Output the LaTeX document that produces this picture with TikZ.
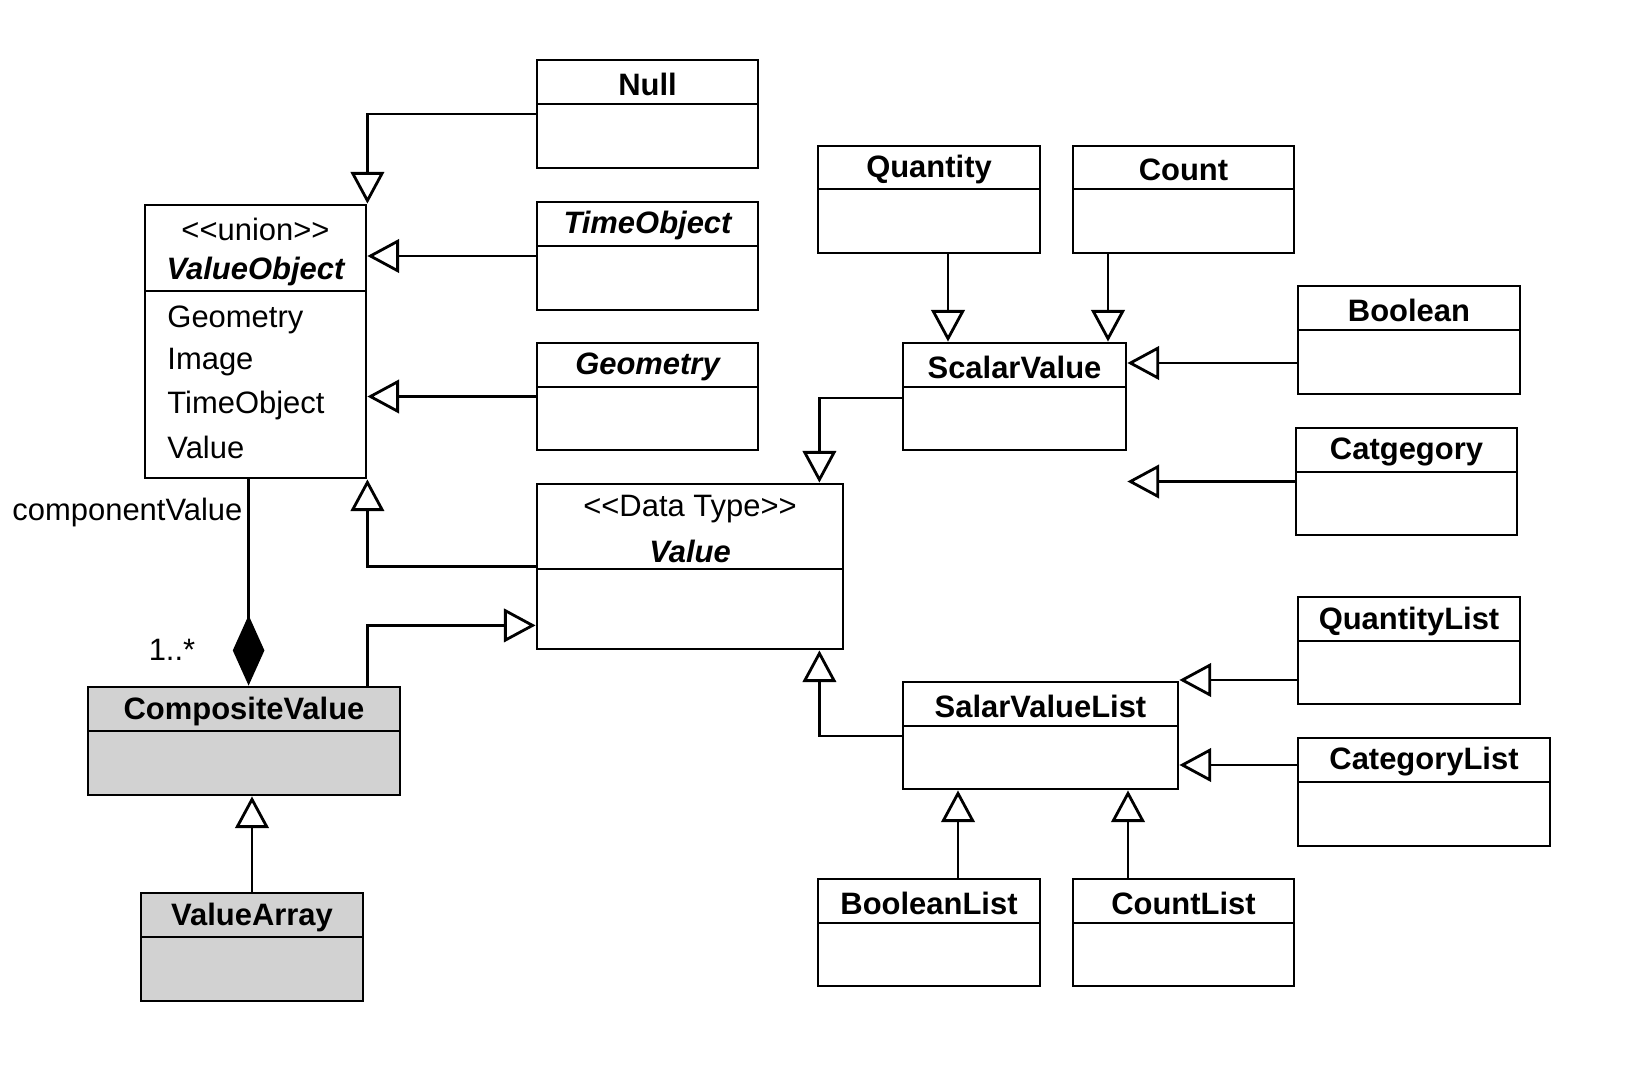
\documentclass[tikz,border=0pt]{standalone}
\usepackage{fontspec}
\setmainfont{Liberation Sans}
\usetikzlibrary{arrows.meta,calc}
\newcommand\ubox[8]{%
  \node[draw,line width=0.8pt,fill=#7,inner sep=0pt,minimum width={(#4-#2)*0.01cm},minimum height={(#5-#3)*0.01cm}] (#1) at ({(#2+#4)/2},{(#3+#5)/2}) {};
  \draw[line width=0.8pt] (#2,#6) -- (#4,#6);
  \node[font=\fontsize{8.8}{10}\selectfont\bfseries] at ({(#2+#4)/2},{(#3+#6)/2+2}) {#8};}
\begin{document}
\begin{tikzpicture}[x=0.01cm,y=-0.01cm,
  gen/.style={line width=0.8pt,-{Triangle[open,width=9.5pt,length=9pt,line width=0.8pt]}},
  txt/.style={font=\fontsize{8.8}{10}\selectfont}]
\useasboundingbox (0,0) rectangle (1633,1082);
\ubox{null}{537}{60}{758}{168}{104}{white}{Null}
\ubox{to}{537}{202}{758}{310}{246}{white}{\itshape TimeObject}
\ubox{geo}{537}{343}{758}{450}{387}{white}{\itshape Geometry}
% ValueObject
\node[draw,line width=0.8pt,inner sep=0pt,minimum width=221*0.01cm,minimum height=273*0.01cm] (vo) at (255.5,341.5) {};
\draw[line width=0.8pt] (145,291) -- (366,291);
\node[txt] at (255.5,229) {{<}{<}union{>}{>}};
\node[txt,font=\fontsize{8.8}{10}\selectfont\bfseries\itshape] at (255.5,271) {ValueObject};
\node[txt,anchor=west] at (155,320) {Geometry};
\node[txt,anchor=west] at (155,362) {Image};
\node[txt,anchor=west] at (155,405) {TimeObject};
\node[txt,anchor=west] at (155,447) {Value};
% Value
\node[draw,line width=0.8pt,inner sep=0pt,minimum width=306*0.01cm,minimum height=165*0.01cm] (val) at (690,566.5) {};
\draw[line width=0.8pt] (537,569) -- (843,569);
\node[txt] at (690,509) {{<}{<}Data Type{>}{>}};
\node[txt,font=\fontsize{8.8}{10}\selectfont\bfseries\itshape] at (690,551) {Value};
\ubox{cv}{88}{687}{400}{795}{731}{gray!35}{CompositeValue}
\ubox{va}{141}{893}{363}{1001}{937}{gray!35}{ValueArray}
\ubox{qty}{818}{146}{1040}{253}{189}{white}{Quantity}
\ubox{cnt}{1073}{146}{1294}{253}{189}{white}{Count}
\ubox{sv}{903}{343}{1126}{450}{387}{white}{ScalarValue}
\ubox{bool}{1298}{286}{1520}{394}{330}{white}{Boolean}
\ubox{cat}{1296}{428}{1517}{535}{472}{white}{Catgegory}
\ubox{ql}{1298}{597}{1520}{704}{641}{white}{QuantityList}
\ubox{svl}{903}{682}{1178}{789}{726}{white}{SalarValueList}
\ubox{cl}{1298}{738}{1550}{846}{782}{white}{CategoryList}
\ubox{bl}{818}{879}{1040}{986}{923}{white}{BooleanList}
\ubox{cntl}{1073}{879}{1294}{986}{923}{white}{CountList}
% connectors
\draw[gen] (null.west) -| (vo.north east);
\draw[gen] (to.west) -- (to.west -| vo.east);
\draw[gen] (geo.west) -- (geo.west -| vo.east);
\draw[gen] (val.west) -| (vo.south east);
\coordinate (cvt) at ($(cv.north east)+(-34,0)$);
\coordinate (vw) at ($(val.south west)+(0,-25)$);
\draw[gen] (cvt) |- (vw);
\draw[line width=0.8pt,{Diamond[width=9pt,length=20pt]}-] ($(cv.north west)+(162,0)$) -- ($(vo.south west)+(105,0)$);
\node[txt,anchor=west] at (0,512) {componentValue};
\node[txt] at (172,650) {1..*};
\draw[gen] (va.north) -- (va.north |- cv.south);
\coordinate (q1) at ($(qty.south)+(19,0)$);
\draw[gen] (q1) -- (q1 |- sv.north);
\coordinate (c1) at ($(cnt.south)+(-75.5,0)$);
\draw[gen] (c1) -- (c1 |- sv.north);
\coordinate (b1) at ($(bool.west)+(0,23)$);
\draw[gen] (b1) -- (b1 -| sv.east);
\draw[gen] (cat.west) -- (cat.west -| sv.south east);
\coordinate (sv1) at ($(sv.west)+(0,1.5)$);
\draw[gen] (sv1) -| ($(val.north east)+(-25,0)$);
\coordinate (svl1) at ($(svl.west)+(0,0.5)$);
\draw[gen] (svl1) -| ($(val.south east)+(-25,0)$);
\coordinate (ql1) at ($(ql.west)+(0,29.5)$);
\draw[gen] (ql1) -- (ql1 -| svl.east);
\coordinate (cl1) at ($(cl.west)+(0,-27)$);
\draw[gen] (cl1) -- (cl1 -| svl.east);
\coordinate (bl1) at ($(bl.north)+(29,0)$);
\draw[gen] (bl1) -- (bl1 |- svl.south);
\coordinate (cl2) at ($(cntl.north)+(-55.5,0)$);
\draw[gen] (cl2) -- (cl2 |- svl.south);
\end{tikzpicture}
\end{document}
